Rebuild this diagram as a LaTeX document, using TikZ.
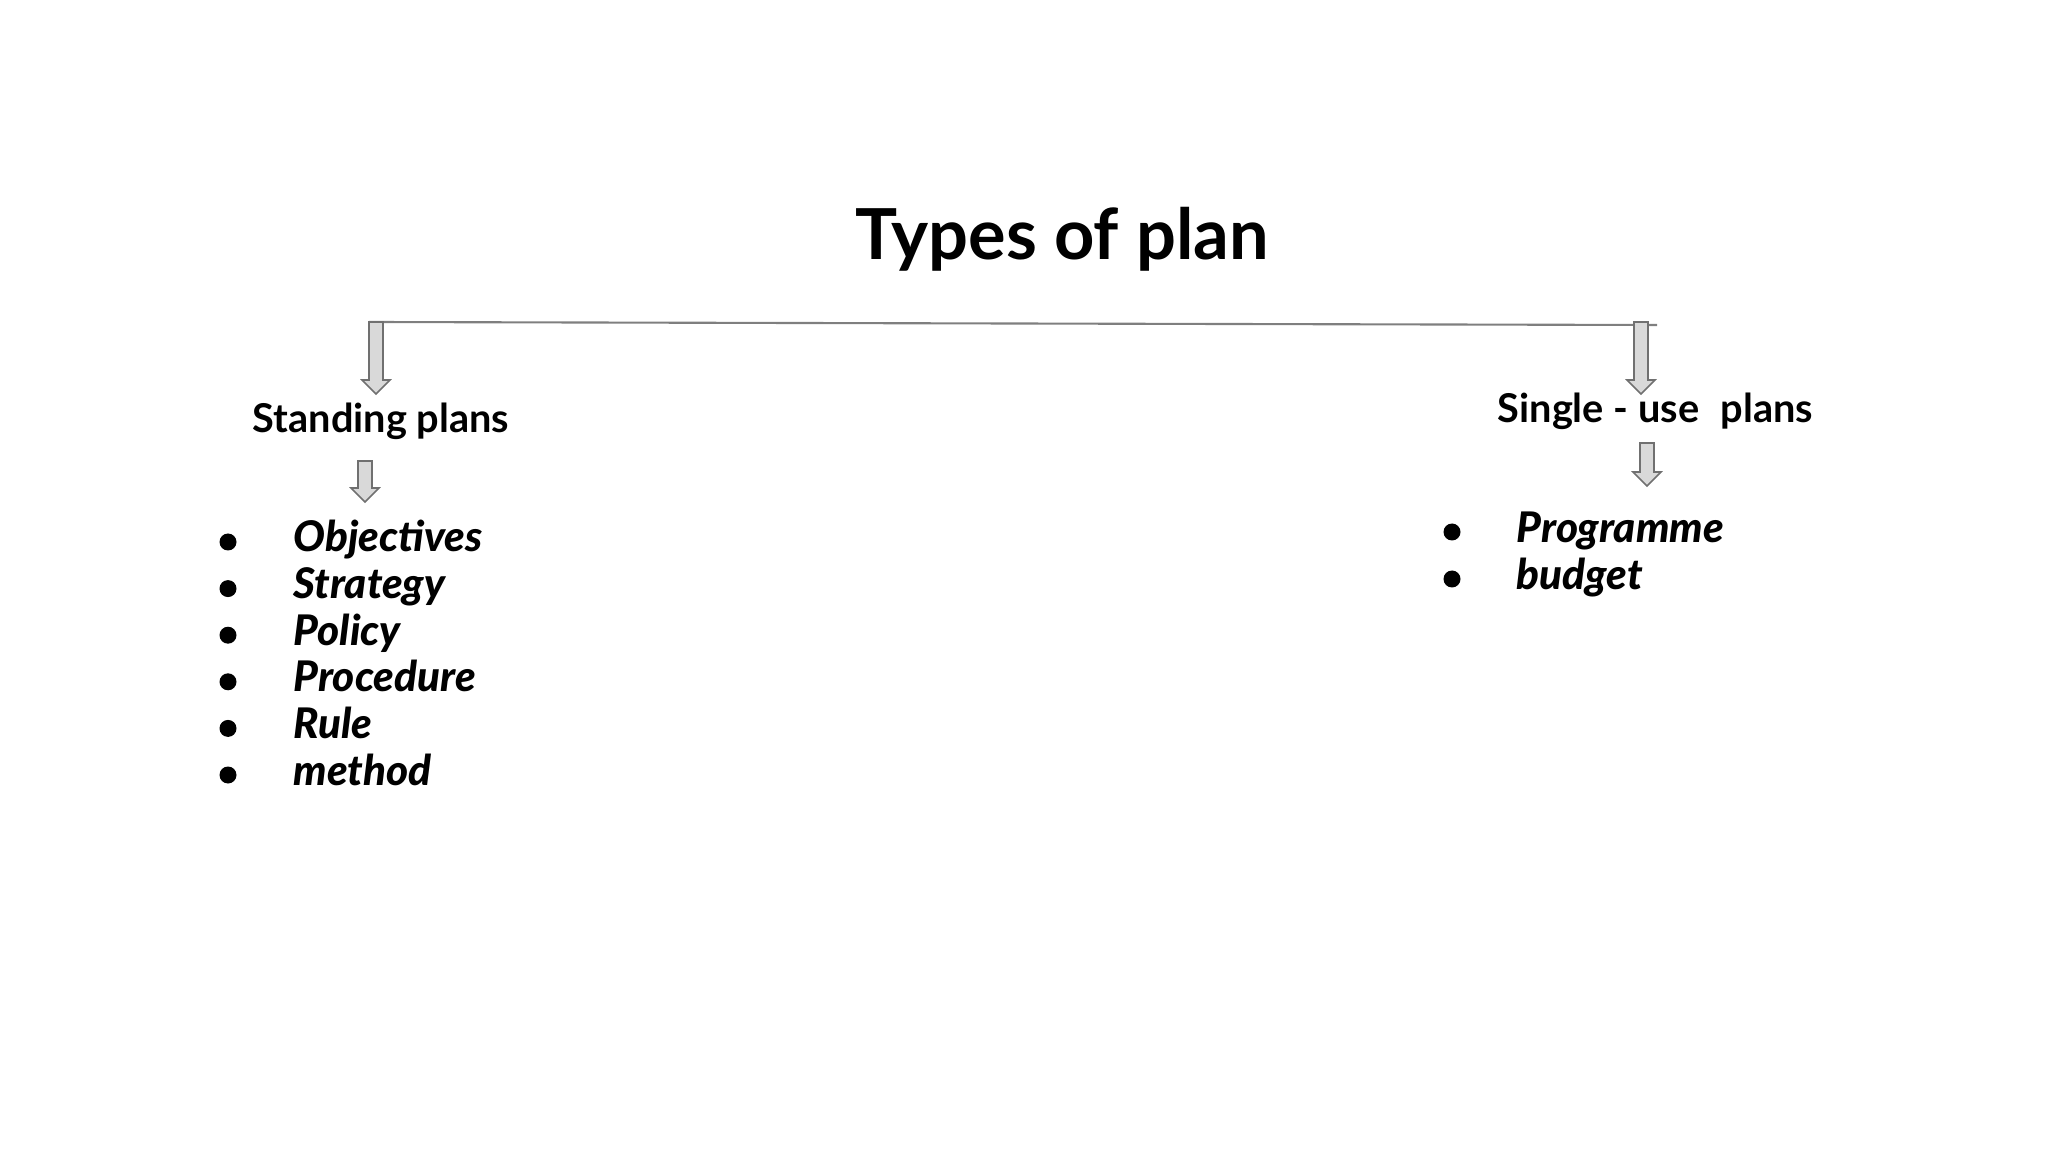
\documentclass[tikz,border=0pt]{standalone}
\usepackage{fontspec}
\setmainfont{Lato}
\newfontfamily\entryfont{Lato Black}[ItalicFont={Lato Black Italic}]
\definecolor{arrowfill}{HTML}{D9D9D9}
\definecolor{arrowline}{HTML}{707070}
\definecolor{barline}{HTML}{7F7F7F}
\tikzset{
  blockarrow/.style={fill=arrowfill,draw=arrowline,line width=0.45pt,line join=miter},
  heading/.style={font=\bfseries\fontsize{20}{24}\selectfont,inner sep=0pt,anchor=base},
  kind/.style={font=\bfseries\fontsize{11.3}{14}\selectfont,inner sep=0pt,anchor=base west},
  entry/.style={font=\entryfont\itshape\fontsize{12}{14}\selectfont,inner sep=0pt,anchor=base west}
}
% block arrow pointing down: centre x, top y, tip y
\newcommand{\downblock}[3]{%
  \draw[blockarrow] (#1-7,#2) -- (#1+7,#2) -- (#1+7,#3-14) -- (#1+14,#3-14)
    -- (#1,#3) -- (#1-14,#3-14) -- (#1-7,#3-14) -- cycle;}
\begin{document}
\begin{tikzpicture}[x=0.01cm,y=-0.01cm]
\useasboundingbox (0,0) rectangle (2048,1152);
\node[heading] (title) at (1062,260) {Types of plan};
%top bar
\coordinate (barleft) at (369,322);
\coordinate (barright) at (1657,325);
\draw[barline,line width=0.6pt] (barleft) -- (barright);
\downblock{376}{322}{394}
\downblock{1641}{322}{394}
\node[kind] (standing) at (252,433) {Standing plans};
\node[kind] (single) at (1497,423) {Single - use\hspace{0.3em} plans};
\downblock{365}{461}{502}
\downblock{1647}{443}{486}
%standing plans list
\foreach \name [count=\i] in {Objectives,Strategy,Policy,Procedure,Rule,method}{
  \fill (228,542+46.6*\i-46.6) circle (8.5);
  \node[entry] (std\i) at (293,552+46.6*\i-46.6) {\name};
}
%single use list
\foreach \name [count=\i] in {Programme,budget}{
  \fill (1452,532+47*\i-47) circle (8.5);
  \node[entry] (sgl\i) at (1516,543+47*\i-47) {\name};
}
\end{tikzpicture}
\end{document}
